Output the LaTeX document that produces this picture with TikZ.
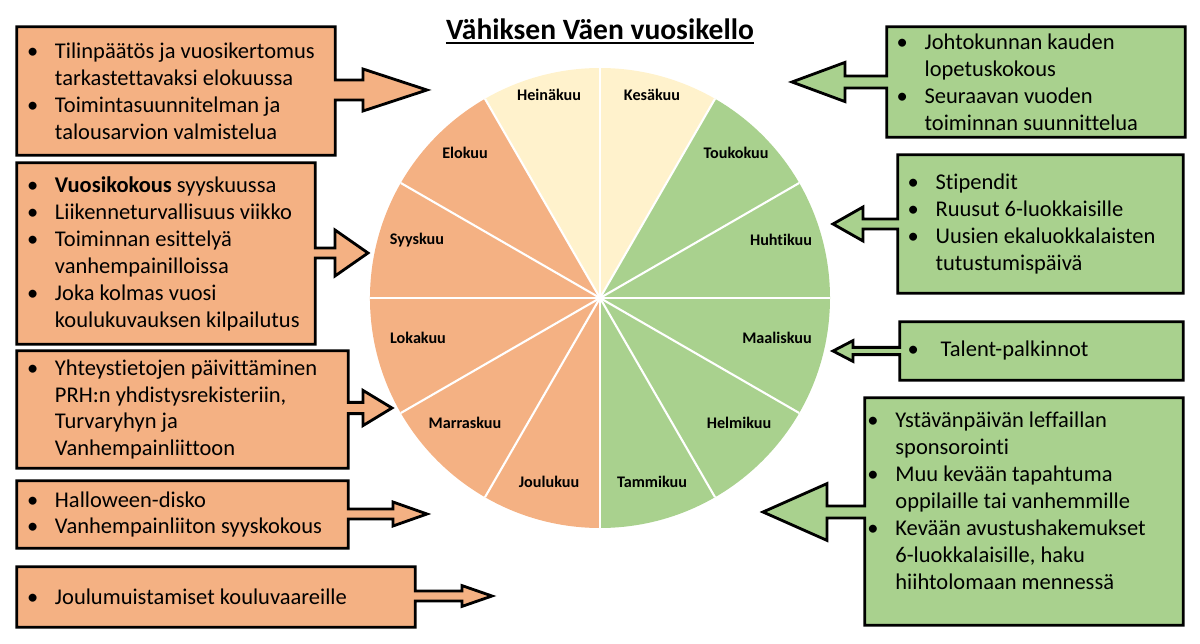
\documentclass[tikz,border=0pt]{standalone}
\usepackage{fontspec}
\setmainfont{Carlito}[Ligatures=NoCommon]
\usetikzlibrary{positioning,calc,backgrounds}
\definecolor{kvOrange}{HTML}{F4B183}
\definecolor{kvGreen}{HTML}{A9D18E}
\definecolor{kvYellow}{HTML}{FFF2CC}

\newcommand{\bul}[1][0.7cm]{\makebox[#1][l]{\textbullet}}
\newcommand{\ind}{\hspace*{0.7cm}}

% box outline + block arrow, pointing right / left
\newcommand{\callR}[6]{% node, tip, shaft half, head half, head length, colour
  \coordinate (#1-s1) at ($(#2)+(-#5,#3)$);
  \coordinate (#1-s2) at ($(#2)+(-#5,-#3)$);
  \coordinate (#1-h1) at ($(#2)+(-#5,#4)$);
  \coordinate (#1-h2) at ($(#2)+(-#5,-#4)$);
  \filldraw[outline, fill=#6] (#1.north west) -- (#1.north east) -- (#1.east |- #1-s1)
    -- (#1-s1) -- (#1-h1) -- (#2) -- (#1-h2) -- (#1-s2) -- (#1.east |- #1-s2)
    -- (#1.south east) -- (#1.south west) -- cycle;
}
\newcommand{\callL}[6]{%
  \coordinate (#1-s1) at ($(#2)+(#5,#3)$);
  \coordinate (#1-s2) at ($(#2)+(#5,-#3)$);
  \coordinate (#1-h1) at ($(#2)+(#5,#4)$);
  \coordinate (#1-h2) at ($(#2)+(#5,-#4)$);
  \filldraw[outline, fill=#6] (#1.north east) -- (#1.north west) -- (#1.west |- #1-s1)
    -- (#1-s1) -- (#1-h1) -- (#2) -- (#1-h2) -- (#1-s2) -- (#1.west |- #1-s2)
    -- (#1.south west) -- (#1.south east) -- cycle;
}

\begin{document}
\begin{tikzpicture}[
            outline/.style={draw=black, line width=2pt, line join=miter},
            holder/.style={rectangle, inner sep=0pt},
            items/.style={inner sep=0pt, align=left, font=\fontsize{16}{19.2}\selectfont},
            month/.style={font=\bfseries\fontsize{11.5}{13}\selectfont},
            divider/.style={white, line width=1.5pt}
        ]
        \useasboundingbox (0,0) rectangle (30,16.075);

        % title
        \node[inner sep=0pt, anchor=base, font=\bfseries\fontsize{21}{25}\selectfont] (title) at (15,15.09) {Vähiksen Väen vuosikello};
        \draw[line width=1.3pt] ($(title.base west)+(0,-0.1)$) -- ($(title.base east)+(0,-0.1)$);

        % the clock
        \coordinate (clock) at (15,8.625);
        \fill[kvGreen] (clock) -- ++(-90:5.75) arc (-90:60:5.75) -- cycle;
        \fill[kvYellow] (clock) -- ++(60:5.75) arc (60:120:5.75) -- cycle;
        \fill[kvOrange] (clock) -- ++(120:5.75) arc (120:270:5.75) -- cycle;
        \foreach \a in {0,30,...,330}
            \draw[divider] (clock) -- ++(\a:5.75);
        \foreach \n/\dx/\dy/\txt in {m1/1.3/-4.6/Tammikuu, m2/3.475/-3.125/Helmikuu,
                m3/4.425/-1.0/Maaliskuu, m4/4.525/1.45/Huhtikuu, m5/3.4/3.625/Toukokuu,
                m6/1.3/5.075/Kesäkuu, m7/-1.275/5.075/Heinäkuu, m8/-3.375/3.625/Elokuu,
                m9/-4.575/1.45/Syyskuu, m10/-4.55/-1.0/Lokakuu, m11/-3.375/-3.125/Marraskuu,
                m12/-1.275/-4.6/Joulukuu}
            \node[month] (\n) at ($(clock)+(\dx,\dy)$) {\txt};

        % left boxes
        \node[holder, minimum width=7.95cm, minimum height=3.2cm] (tilin) at (4.4,13.8) {};
        \node[items, right=0.25cm of tilin.west] (tilintxt) {\bul Tilinpäätös ja vuosikertomus\\ \ind tarkastettavaksi elokuussa\\ \bul Toimintasuunnitelman ja\\ \ind talousarvion valmistelua};

        \node[holder, minimum width=7.45cm, minimum height=4.525cm] (vuosi) at (4.15,9.7375) {};
        \node[items, right=0.25cm of vuosi.west] (vuositxt) {\bul \textbf{Vuosikokous} syyskuussa\\ \bul Liikenneturvallisuus viikko\\ \bul Toiminnan esittelyä\\ \ind vanhempainilloissa\\ \bul Joka kolmas vuosi\\ \ind koulukuvauksen kilpailutus};

        \node[holder, minimum width=8.275cm, minimum height=2.925cm] (yhteys) at (4.5625,5.8375) {};
        \node[items, right=0.25cm of yhteys.west] (yhteystxt) {\bul Yhteystietojen päivittäminen\\ \ind PRH:n yhdistysrekisteriin,\\ \ind Turvaryhyn ja\\ \ind Vanhempainliittoon};

        \node[holder, minimum width=8.275cm, minimum height=1.675cm] (hallo) at (4.5625,3.2125) {};
        \node[items, right=0.25cm of hallo.west] (hallotxt) {\bul Halloween-disko\\ \bul Vanhempainliiton syyskokous};

        \node[holder, minimum width=9.95cm, minimum height=1.5cm] (joulu) at (5.4,1.15) {};
        \node[items, right=0.25cm of joulu.west] (joulutxt) {\bul Joulumuistamiset kouluvaareille};

        % right boxes
        \node[holder, minimum width=7.45cm, minimum height=2.75cm] (johto) at (25.9,14.025) {};
        \node[items, right=0.24cm of johto.west] (johtotxt) {\bul Johtokunnan kauden\\ \ind lopetuskokous\\ \bul Seuraavan vuoden\\ \ind toiminnan suunnittelua};

        \node[holder, minimum width=7.125cm, minimum height=3.45cm] (stip) at (26.0125,10.475) {};
        \node[items, right=0.24cm of stip.west] (stiptxt) {\bul Stipendit\\ \bul Ruusut 6-luokkaisille\\ \bul Uusien ekaluokkalaisten\\ \ind tutustumispäivä};

        \node[holder, minimum width=7.075cm, minimum height=1.45cm] (talent) at (26.0375,7.3) {};
        \node[items, right=0.19cm of talent.west] (talenttxt) {\bul[0.7cm] Talent-palkinnot};

        \node[holder, minimum width=7.95cm, minimum height=5.675cm] (ystava) at (25.6,3.2875) {};
        \node[items, right=0.06cm of ystava.west, yshift=0.275cm] (ystavatxt) {\bul Ystävänpäivän leffaillan\\ \ind sponsorointi\\ \bul Muu kevään tapahtuma\\ \ind oppilaille tai vanhemmille\\ \bul Kevään avustushakemukset\\ \ind 6-luokkalaisille, haku\\ \ind hiihtolomaan mennessä};

        % arrow tips
        \coordinate (tilin-tip) at (10.675,13.825);
        \coordinate (vuosi-tip) at (9.2,9.75);
        \coordinate (yhteys-tip) at (9.8,5.875);
        \coordinate (hallo-tip) at (10.675,3.225);
        \coordinate (joulu-tip) at (12.3,1.175);
        \coordinate (johto-tip) at (19.8,14.025);
        \coordinate (stip-tip) at (20.825,10.475);
        \coordinate (talent-tip) at (20.825,7.3);
        \coordinate (ystava-tip) at (19.075,3.275);

        \begin{scope}[on background layer]
            \callR{tilin}{tilin-tip}{0.25}{0.525}{1.6}{kvOrange}
            \callR{vuosi}{vuosi-tip}{0.125}{0.575}{0.825}{kvOrange}
            \callR{yhteys}{yhteys-tip}{0.14}{0.44}{0.725}{kvOrange}
            \callR{hallo}{hallo-tip}{0.125}{0.3}{0.85}{kvOrange}
            \callR{joulu}{joulu-tip}{0.125}{0.26}{0.75}{kvOrange}
            \callL{johto}{johto-tip}{0.15}{0.49}{1.325}{kvGreen}
            \callL{stip}{stip-tip}{0.125}{0.425}{0.75}{kvGreen}
            \callL{talent}{talent-tip}{0.09}{0.26}{0.5}{kvGreen}
            \callL{ystava}{ystava-tip}{0.15}{0.71}{1.6}{kvGreen}
        \end{scope}
    \end{tikzpicture}
\end{document}
